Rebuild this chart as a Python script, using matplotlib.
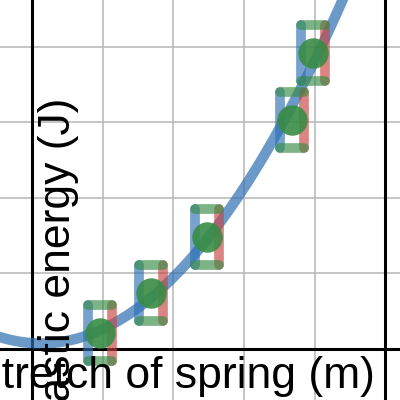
import numpy as np
import matplotlib
matplotlib.use("Agg")
import matplotlib.pyplot as plt

x_vals = [0.963, 1.69, 2.48, 3.68, 3.98]
y_vals = [0.21, 0.74, 1.48, 3.03, 3.92]
x_err = 0.17
y_err = 0.37

BLUE = "#2d70b3"; RED = "#c74440"; GREEN = "#388c46"

fig = plt.figure(figsize=(4, 4), dpi=100)
ax = fig.add_axes([0, 0, 1, 1])
ax.set_xlim(-0.453, 5.21)
ax.set_ylim(-0.675, 4.62)
for gx in [1, 2, 3, 4]:
    ax.axvline(gx, color="#bbbbbb", lw=1.2, zorder=0)
for gy in [1, 2, 3, 4]:
    ax.axhline(gy, color="#bbbbbb", lw=1.2, zorder=0)
ax.axvline(0, color="black", lw=2.2, zorder=1)
ax.axvline(5, color="black", lw=2.2, zorder=1)
ax.axhline(0, color="black", lw=2.2, zorder=1)
ax.axis("off")

coef = np.polyfit(x_vals, y_vals, 2)
xs = np.linspace(-0.5, 5.3, 400)
ax.plot(xs, np.polyval(coef, xs), color=BLUE, lw=7.5, alpha=0.7, solid_capstyle="round", zorder=3)

for x, y in zip(x_vals, y_vals):
    l, r, b, t = x - x_err, x + x_err, y - y_err, y + y_err
    kw = dict(lw=7, alpha=0.65, solid_capstyle="round", zorder=4)
    ax.plot([l, l], [b, t], color=BLUE, **kw)
    ax.plot([r, r], [b, t], color=RED, **kw)
    ax.plot([l, r], [t, t], color=GREEN, **kw)
    ax.plot([l, r], [b, b], color=GREEN, **kw)
ax.scatter(x_vals, y_vals, s=480, color=GREEN, alpha=0.9, zorder=5, linewidths=0)

ax.text(2.0, -0.36, "Stretch of spring (m)", fontsize=32, ha="center", va="center",
        family="Liberation Sans", zorder=6)
ax.text(0.37, 1.05, "Elastic energy (J)", fontsize=32, ha="center", va="center",
        rotation=90, family="Liberation Sans", zorder=6)
fig.savefig("out.png", dpi=100)
